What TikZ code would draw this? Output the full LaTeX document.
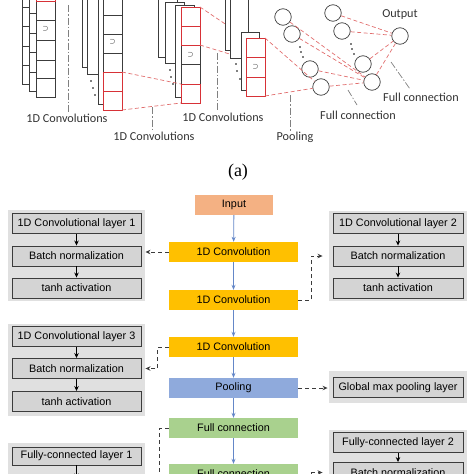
\documentclass[tikz,border=0pt]{standalone}
\usepackage{fontspec}
\setmainfont{Liberation Sans}
\newfontfamily\carlito{Carlito}
\newfontfamily\timesfont{Liberation Serif}
\usetikzlibrary{arrows.meta,positioning,calc}

\definecolor{inputc}{RGB}{244,177,131}
\definecolor{convc}{RGB}{255,192,0}
\definecolor{poolc}{RGB}{143,170,220}
\definecolor{fcc}{RGB}{169,209,142}
\definecolor{flowc}{RGB}{100,135,200}
\definecolor{panelc}{RGB}{224,224,224}
\definecolor{boxc}{RGB}{212,212,212}
\definecolor{edgec}{RGB}{60,60,60}
\definecolor{mapred}{RGB}{215,50,55}
\definecolor{linkred}{RGB}{225,110,110}

% one column of a feature map: x, top, bottom, width, cell lines
\newcommand{\mapcol}[5]{%
  \draw[mapline, fill=white] (#1,#2) rectangle (#1+#4,#3);
  \foreach \yy in {#5} \draw[mapline] (#1,\yy) -- (#1+#4,\yy);
}

\begin{document}
\begin{tikzpicture}[x=1pt,y=-1pt,
    mapline/.style={draw=edgec, line width=0.7pt},
    redcell/.style={draw=mapred, line width=0.9pt},
    redlink/.style={draw=linkred, line width=0.7pt, dash pattern=on 4pt off 2.5pt},
    unit/.style={circle, draw=edgec, fill=white, line width=0.7pt, minimum size=16.5pt, inner sep=0pt},
    pointer/.style={draw=gray, line width=0.7pt, dash pattern=on 7pt off 2pt on 1.5pt off 2pt},
    caption/.style={font=\carlito\fontsize{12.2}{14}\selectfont, text=black!80, inner sep=1pt},
    sym/.style={font=\scriptsize, inner sep=0pt},
    flowbox/.style={minimum width=129pt, minimum height=20pt, inner sep=0pt, font=\fontsize{10.8}{12}\selectfont},
    layerbox/.style={draw=edgec, fill=boxc, line width=0.9pt, minimum width=129pt, minimum height=20pt, inner sep=0pt, font=\fontsize{10.8}{12}\selectfont},
    flowarrow/.style={draw=flowc, line width=0.8pt, -{Stealth[length=5pt,width=4pt]}},
    steparrow/.style={draw=black, line width=0.8pt, -{Stealth[length=5pt,width=4.5pt]}},
    linkarrow/.style={draw=edgec, line width=0.8pt, dash pattern=on 4pt off 3pt, -{Stealth[length=5pt,width=4.5pt]}},
  ]
  \useasboundingbox (0,0) rectangle (474,474);
  \clip (0,0) rectangle (474,474);

  % ---------- (a) network sketch ----------
  % first convolution maps
  \mapcol{22}{-5}{84}{19}{7,26,46,65}
  \mapcol{29}{-5}{91}{19}{13,33,52,72}
  \mapcol{36}{-5}{97}{19}{1,20,40,60,78}
  \draw[redcell] (36,-20) rectangle (55,1);
  \node[sym] (s1) at (45.5,29) {$\supset$};

  % second convolution maps
  \mapcol{82}{-5}{67}{19}{67}
  \mapcol{87}{-5}{74}{19}{74}
  \mapcol{98}{-5}{104}{19}{104}
  \mapcol{103}{-5}{110}{19}{15,34,53,72,91}
  \draw[redcell] (103,72) rectangle (122,110) (103,91) -- (122,91);
  \node[sym] (s2) at (112.5,42) {$\supset$};
  \foreach \dx/\dy in {91/81,93/88,95/95} \fill (\dx,\dy) circle (0.9pt);

  % third convolution maps
  \mapcol{158}{-5}{57}{19}{57}
  \mapcol{165}{2}{63}{19}{63}
  \mapcol{175}{5}{97}{19}{97}
  \mapcol{181}{7}{103}{19}{26,45,64,84}
  \draw[redcell] (181,7) rectangle (200,45) (181,26) -- (200,26);
  \draw[redcell] (181,84) rectangle (200,103);
  \node[sym] (s3) at (190.5,55) {$\supset$};
  \foreach \dx/\dy in {170/70,171/77,173/84} \fill (\dx,\dy) circle (0.9pt);

  % links between the red cells
  \draw[redlink] (122,72) -- (181,84);
  \draw[redlink] (122,110) -- (181,103);
  \draw[redlink] (200,7) -- (246,38);
  \draw[redlink] (200,45) -- (246,59);

  % fourth convolution maps
  \mapcol{225}{-5}{50}{23}{50}
  \mapcol{230}{-5}{58}{18}{58}
  \mapcol{241}{32}{90}{18}{90}
  \mapcol{246}{38}{96}{19}{57,77}
  \draw[redcell] (246,38) rectangle (265,96) (246,57) -- (265,57) (246,77) -- (265,77);
  \node[sym] (s4) at (255.5,67) {$\supset$};
  \foreach \dx/\dy in {236/64,237/71,240/79} \fill (\dx,\dy) circle (0.9pt);

  % pooling and fully connected units
  \node[unit] (p1) at (283,17) {};
  \node[unit] (p2) at (292,34) {};
  \node[unit] (p3) at (310,69) {};
  \node[unit] (p4) at (321,87) {};
  \node[unit] (f1) at (333,13) {};
  \node[unit] (f2) at (342,31) {};
  \node[unit] (f3) at (363,64) {};
  \node[unit] (f4) at (372,82) {};
  \node[unit] (out) at (400,36) {};
  \foreach \dx/\dy in {300/47,301/52,303/57,351/44,352/49,354/54} \fill (\dx,\dy) circle (0.9pt);

  \coordinate (g4a) at (265,38);
  \coordinate (g4b) at (265,96);
  \draw[redlink] (g4a) -- (p4);
  \draw[redlink] (g4b) -- (p4);
  \foreach \p in {p1,p2,p3,p4} \draw[redlink] (\p) -- (f4);
  \foreach \f in {f1,f2,f3,f4} \draw[redlink] (\f) -- (out);

  % labels with pointers
  \node[caption] (c1) at (67,118) {1D Convolutions};
  \node[caption] (c2) at (154,136) {1D Convolutions};
  \node[caption] (c3) at (223,117) {1D Convolutions};
  \node[caption] (c4) at (295,137) {Pooling};
  \node[caption] (c5) at (358,115) {Full connection};
  \node[caption] (c6) at (421,97) {Full connection};
  \node[caption] (c7) at (400,15) {Output};
  \coordinate (t1) at (68,5);
  \coordinate (t2) at (152,107);
  \coordinate (t3) at (217,53);
  \coordinate (t4) at (290,95);
  \coordinate (t5) at (348,90);
  \coordinate (t6) at (391,62);
  \draw[pointer] (t1) -- (t1 |- c1.north);
  \draw[pointer] (t2) -- (t2 |- c2.north);
  \draw[pointer] (t3) -- (t3 |- c3.north);
  \draw[pointer] (t4) -- (t4 |- c4.north);
  \draw[pointer] (t5) -- (357,105);
  \draw[pointer] (t6) -- (410,89);

  \node[font=\timesfont\fontsize{18}{20}\selectfont] (tag) at (238,172) {(a)};

  % ---------- (b) flow chart ----------
  % panels
  \fill[panelc] (8,210) rectangle (145,301);
  \fill[panelc] (329,211) rectangle (467,301);
  \fill[panelc] (8,324) rectangle (145,416);
  \fill[panelc] (329,371) rectangle (467,403);
  \fill[panelc] (8,443) rectangle (145,520);
  \fill[panelc] (329,430) rectangle (467,520);

  % main column
  \node[flowbox, fill=inputc, minimum width=78pt] (in) at (234,205) {Input};
  \node[flowbox, fill=convc] (conv1) at (233.5,252) {1D Convolution};
  \node[flowbox, fill=convc] (conv2) at (233.5,300) {1D Convolution};
  \node[flowbox, fill=convc] (conv3) at (233.5,347) {1D Convolution};
  \node[flowbox, fill=poolc] (pool) at (233.5,388) {Pooling};
  \node[flowbox, fill=fcc] (fc1) at (233.5,428) {Full connection};
  \node[flowbox, fill=fcc] (fc2) at (233.5,474) {Full connection};
  \draw[flowarrow] (in) -- (conv1);
  \draw[flowarrow] (conv1) -- (conv2);
  \draw[flowarrow] (conv2) -- (conv3);
  \draw[flowarrow] (conv3) -- (pool);
  \draw[flowarrow] (pool) -- (fc1);
  \draw[flowarrow] (fc1) -- (fc2);

  % side layers
  \node[layerbox] (l1a) at (76.5,223.5) {1D Convolutional layer 1};
  \node[layerbox] (l1b) at (76.5,256) {Batch normalization};
  \node[layerbox] (l1c) at (76.5,288) {tanh activation};
  \node[layerbox, minimum width=130pt] (r1a) at (398,223.5) {1D Convolutional layer 2};
  \node[layerbox, minimum width=130pt] (r1b) at (398,256) {Batch normalization};
  \node[layerbox, minimum width=130pt] (r1c) at (398,288) {tanh activation};
  \node[layerbox] (l2a) at (76.5,336.5) {1D Convolutional layer 3};
  \node[layerbox] (l2b) at (76.5,368.5) {Batch normalization};
  \node[layerbox] (l2c) at (76.5,401.5) {tanh activation};
  \node[layerbox, minimum width=130pt] (r2a) at (398,387.5) {Global max pooling layer};
  \node[layerbox, minimum height=18pt] (l3a) at (76.5,456) {Fully-connected layer 1};
  \node[layerbox] (l3b) at (76.5,489) {Batch normalization};
  \node[layerbox, minimum width=130pt] (r3a) at (398,442.5) {Fully-connected layer 2};
  \node[layerbox, minimum width=130pt] (r3b) at (398,472.5) {Batch normalization};
  \foreach \a/\b in {l1a/l1b,l1b/l1c,r1a/r1b,r1b/r1c,l2a/l2b,l2b/l2c,l3a/l3b,r3a/r3b}
    \draw[steparrow] (\a) -- (\b);

  % dashed links to the side layers
  \draw[linkarrow] (conv1.west) -- ([xshift=4pt]conv1.west -| l1b.east);
  \draw[linkarrow] (conv2.east) -- ++(13,0) |- ([xshift=-10pt]r1b.west);
  \draw[linkarrow] (conv3.west) -- ++(-11,0) |- ([xshift=4pt]l2b.east);
  \draw[linkarrow] (pool.east) -- ([xshift=-5pt]pool.east -| r2a.west);
  \draw[linkarrow] (fc1.west) -- ++(-9,0) |- ([xshift=4pt]l3b.east);
  \draw[linkarrow] (fc2.east) -- ++(13,0) |- ([xshift=-10pt]r3b.west);
\end{tikzpicture}
\end{document}
